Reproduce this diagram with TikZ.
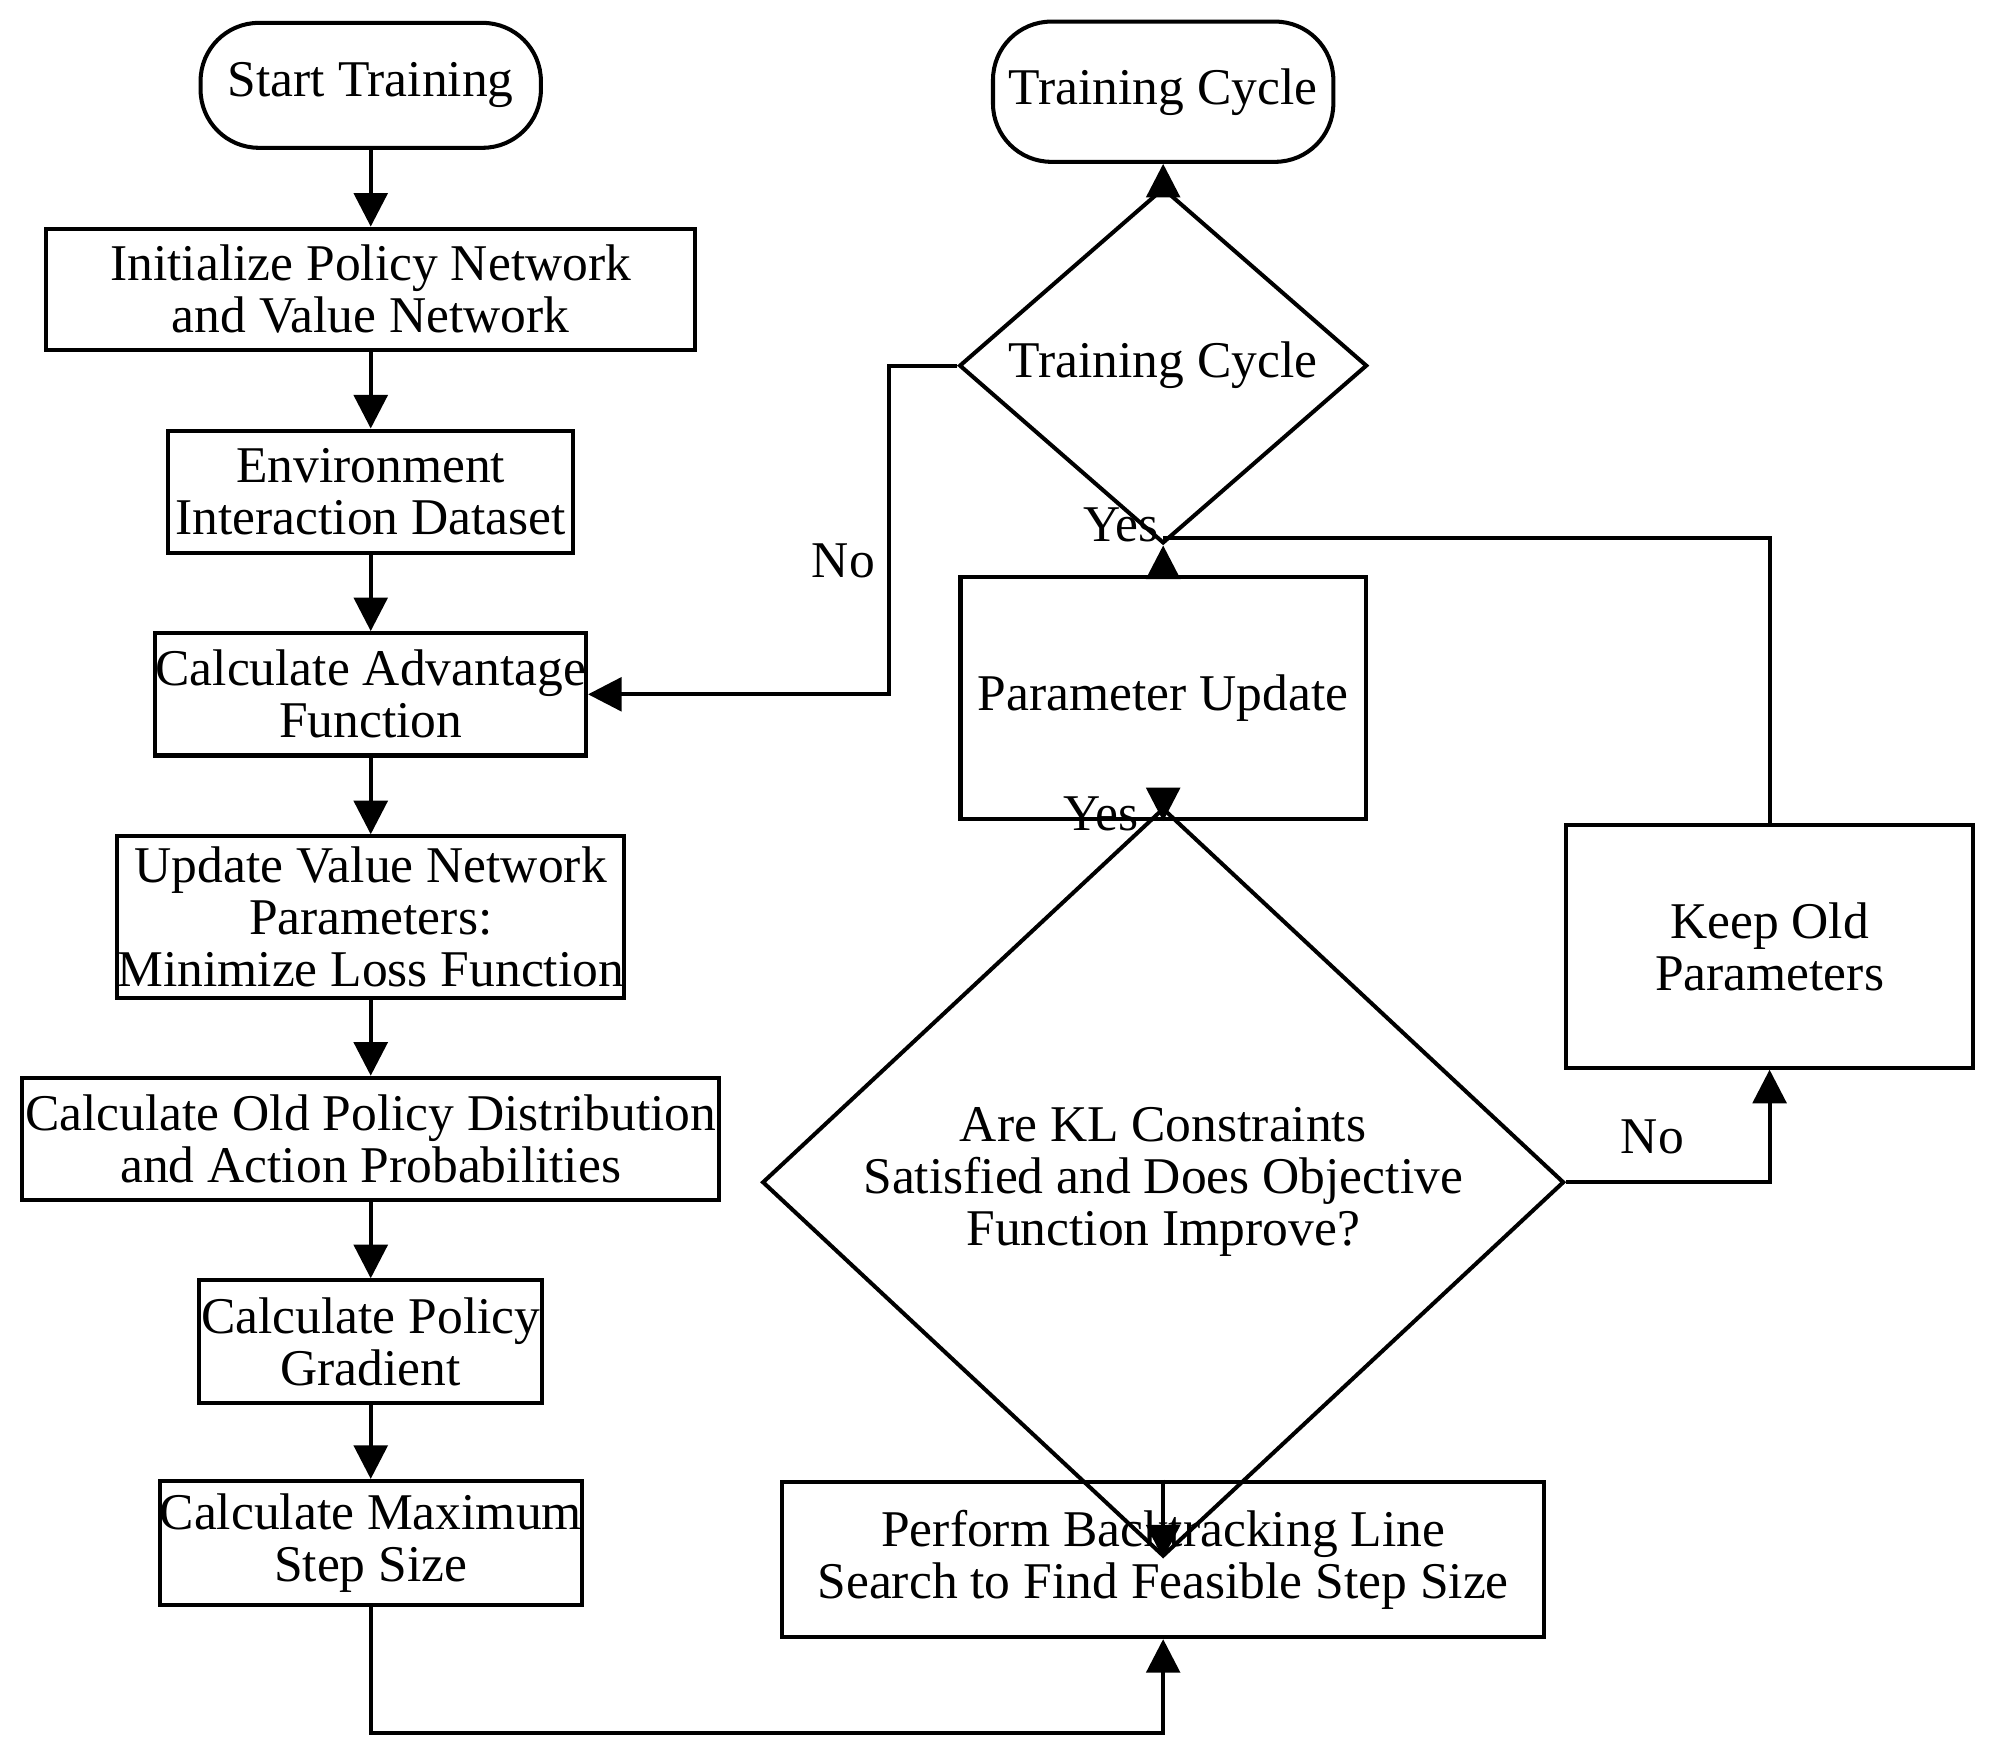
\documentclass[tikz,border=0pt]{standalone}
\usepackage{fontspec}
\setmainfont{Liberation Serif}
\usetikzlibrary{shapes.geometric,arrows.meta}
\begin{document}
\begin{tikzpicture}[x=0.01cm,y=-0.01cm,
  every node/.style={font=\fontsize{11.5}{11.6}\selectfont, align=center, inner sep=0pt},
  box/.style={draw, line width=0.9pt, minimum width=#1},
  term/.style={draw, line width=0.9pt, rounded corners=13pt},
  dia/.style={draw, line width=0.9pt, diamond, inner sep=0pt},
  arr/.style={line width=0.9pt, -{Triangle[width=7.5pt,length=7.5pt]}},
  ln/.style={line width=0.9pt}]
\useasboundingbox (0,0) rectangle (1562,1380);
\node[term, minimum width=2.67cm, minimum height=0.98cm] (start) at (291,67) {Start Training};
\node[box=5.09cm, minimum height=0.95cm] (init) at (291,227) {Initialize Policy Network\\and Value Network};
\node[box=3.18cm, minimum height=0.96cm] (env) at (291,386) {Environment\\Interaction Dataset};
\node[box=3.18cm, minimum height=0.96cm] (adv) at (291,545) {Calculate Advantage\\Function};
\node[box=3.83cm, minimum height=1.27cm] (upd) at (291,720) {Update Value Network\\Parameters:\\Minimize Loss Function};
\node[box=5.47cm, minimum height=0.96cm] (old) at (291,894) {Calculate Old Policy Distribution\\and Action Probabilities};
\node[box=2.69cm, minimum height=0.96cm] (grad) at (291,1053) {Calculate Policy\\Gradient};
\node[box=2.93cm, minimum height=0.97cm] (max) at (291,1211) {Calculate Maximum\\Step Size};
\node[box=5.98cm, minimum height=1.22cm] (back) at (913,1224) {Perform Backtracking Line\\Search to Find Feasible Step Size};
\node[dia, minimum width=6.29cm, minimum height=3.45cm] (kl) at (913,928) {Are KL Constraints\\Satisfied and Does Objective\\Function Improve?};
\node[box=3.18cm, minimum height=1.90cm] (pu) at (913,548) {Parameter Update};
\node[box=3.19cm, minimum height=1.90cm] (keep) at (1389,743) {Keep Old\\Parameters};
\node[dia, minimum width=3.20cm, minimum height=1.25cm] (tc) at (913,287) {Training Cycle};
\node[term, minimum width=2.67cm, minimum height=1.10cm] (tcend) at (913,72) {Training Cycle};
\draw[arr] (start) -- (init);
\draw[arr] (init) -- (env);
\draw[arr] (env) -- (adv);
\draw[arr] (adv) -- (upd);
\draw[arr] (upd) -- (old);
\draw[arr] (old) -- (grad);
\draw[arr] (grad) -- (max);
\coordinate (c1) at (291,1360);
\coordinate (c2) at (913,1360);
\draw[arr] (max.south) -- (c1) -- (c2) -- (back.south);
\draw[arr] (back) -- (kl);
\draw[arr] (kl) -- node[pos=0.55, left=5pt] {Yes} (pu);
\draw[arr] (pu) -- (tc);
\node at (880,412) {Yes};
\coordinate (j) at (913,422);
\coordinate (k) at (1389,422);
\draw[ln] (keep.north) -- (k) -- (j);
\coordinate (n1) at (1389,928);
\draw[arr] (kl.east) -- (n1) -- (keep.south);
\node at (1297,892) {No};
\coordinate (t1) at (698,287);
\coordinate (t2) at (698,545);
\draw[arr] (tc.west) -- (t1) -- (t2) -- (adv.east);
\node at (662,440) {No};
\draw[arr] (tc) -- (tcend);
\end{tikzpicture}
\end{document}
